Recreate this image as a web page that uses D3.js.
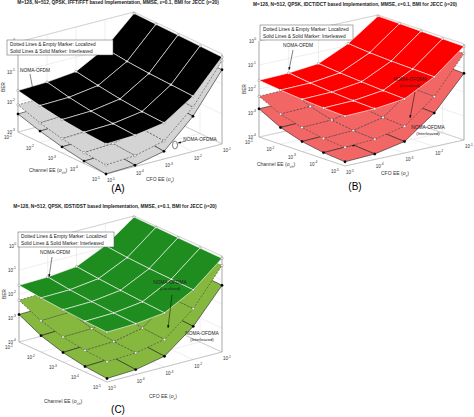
<!DOCTYPE html>
<html>
<head>
<meta charset="utf-8">
<script src="https://cdn.jsdelivr.net/npm/d3@7"></script>
<style>
  * { margin: 0; padding: 0; }
  body { background: #fff; }
  text { font-family: "Liberation Sans", Arial, sans-serif; }
</style>
</head>
<body>
<svg id="chart" width="474" height="417"></svg>
<script>
// axis values (rows = channel EE, cols = CFO EE)
var chTicks = [1e-5, 1e-4, 1e-3, 1e-2, 1e-1];
var cfoTicks = [1e-5, 1e-4, 1e-3, 1e-2, 1e-1];
var tickExp = ["-5", "-4", "-3", "-2", "-1"];

// BER surfaces, panel A (IFFT/FFT)
var ofdmA = [
  [1.0e-2, 1.1e-2, 1.6e-2, 7e-2, 8e-1],
  [1.1e-2, 1.2e-2, 1.7e-2, 7.5e-2, 8.2e-1],
  [1.3e-2, 1.4e-2, 2.0e-2, 8e-2, 8.5e-1],
  [1.7e-2, 1.8e-2, 2.5e-2, 9e-2, 8.8e-1],
  [2.4e-2, 2.6e-2, 3.3e-2, 1.1e-1, 9e-1]
];
var locA = [
  [2.0e-3, 2.3e-3, 4e-3, 3e-2, 6e-1],
  [2.3e-3, 2.6e-3, 4.5e-3, 3.3e-2, 6.2e-1],
  [3.0e-3, 3.3e-3, 5.5e-3, 3.8e-2, 6.5e-1],
  [4.5e-3, 5e-3, 7.5e-3, 4.5e-2, 6.8e-1],
  [8e-3, 8.5e-3, 1.2e-2, 6e-2, 7e-1]
];
var intA = [
  [1.0e-3, 1.1e-3, 1.8e-3, 1.5e-2, 3e-1],
  [1.2e-3, 1.3e-3, 2.1e-3, 1.7e-2, 3.2e-1],
  [1.6e-3, 1.7e-3, 2.7e-3, 2e-2, 3.4e-1],
  [2.4e-3, 2.6e-3, 3.8e-3, 2.5e-2, 3.6e-1],
  [4e-3, 4.3e-3, 6e-3, 3.3e-2, 3.8e-1]
];
// panel B (IDCT/DCT)
var ofdmB = [
  [1.2e-2, 1.3e-2, 1.8e-2, 8e-2, 8e-1],
  [1.3e-2, 1.4e-2, 2.0e-2, 8.5e-2, 8.2e-1],
  [1.5e-2, 1.6e-2, 2.3e-2, 9e-2, 8.5e-1],
  [1.8e-2, 1.9e-2, 2.7e-2, 1.0e-1, 8.8e-1],
  [2.3e-2, 2.5e-2, 3.3e-2, 1.2e-1, 9e-1]
];
var locB = [
  [6e-4, 7e-4, 1.3e-3, 1.2e-2, 4e-1],
  [7e-4, 8e-4, 1.5e-3, 1.3e-2, 4.2e-1],
  [1.0e-3, 1.1e-3, 2.0e-3, 1.6e-2, 4.5e-1],
  [1.8e-3, 2.0e-3, 3.2e-3, 2.2e-2, 4.8e-1],
  [5e-3, 5.3e-3, 7e-3, 3.5e-2, 5e-1]
];
var intB = [
  [1.5e-4, 1.7e-4, 3e-4, 2.5e-3, 6e-2],
  [1.8e-4, 2.0e-4, 3.5e-4, 2.8e-3, 6.5e-2],
  [2.6e-4, 2.9e-4, 5e-4, 3.5e-3, 7e-2],
  [5e-4, 5.5e-4, 8.5e-4, 5e-3, 8e-2],
  [1.5e-3, 1.6e-3, 2.2e-3, 9e-3, 1e-1]
];
// panel C (IDST/DST)
var ofdmC = [
  [1.2e-2, 1.3e-2, 1.8e-2, 8e-2, 8e-1],
  [1.3e-2, 1.4e-2, 2.0e-2, 8.5e-2, 8.2e-1],
  [1.5e-2, 1.6e-2, 2.3e-2, 9e-2, 8.5e-1],
  [1.8e-2, 1.9e-2, 2.7e-2, 1.0e-1, 8.8e-1],
  [2.3e-2, 2.5e-2, 3.3e-2, 1.2e-1, 9e-1]
];
var locC = [
  [7e-4, 8e-4, 1.4e-3, 1.3e-2, 4e-1],
  [8e-4, 9e-4, 1.6e-3, 1.4e-2, 4.2e-1],
  [1.1e-3, 1.2e-3, 2.1e-3, 1.7e-2, 4.5e-1],
  [2.0e-3, 2.2e-3, 3.4e-3, 2.3e-2, 4.8e-1],
  [5.5e-3, 6e-3, 7.5e-3, 3.7e-2, 5e-1]
];
var intC = [
  [1.4e-4, 1.6e-4, 2.8e-4, 2.4e-3, 6e-2],
  [1.7e-4, 1.9e-4, 3.3e-4, 2.7e-3, 6.5e-2],
  [2.5e-4, 2.8e-4, 4.8e-4, 3.4e-3, 7e-2],
  [4.8e-4, 5.3e-4, 8.2e-4, 4.8e-3, 8e-2],
  [1.4e-3, 1.5e-3, 2.1e-3, 8.5e-3, 1e-1]
];

var svg = d3.select("#chart");

function sup(sel, base, exp) {
  sel.append("tspan").text(base);
  sel.append("tspan").attr("dy", -2.5).attr("font-size", "0.75em").text(exp);
}

function drawPanel(c) {
  var g = svg.append("g");
  var fr = d3.scaleLog().domain([1e-5, 1e-1]).range([0, 1]);
  var zs = d3.scaleLog().domain([Math.pow(10, c.zmin), 1]).range([0, -c.zmin * c.h]).clamp(true);
  function p(ch, cfo, z) {
    var a = fr(ch), b = fr(cfo);
    return [c.O[0] + c.u[0] * a + c.v[0] * b, c.O[1] + c.u[1] * a + c.v[1] * b - zs(z)];
  }
  var zTop = 1, zBot = Math.pow(10, c.zmin);
  var line = d3.line();
  var zTicks = d3.range(c.zmin, 1).map(function (e) { return Math.pow(10, e); });

  // back walls and floor
  g.append("path").attr("fill", "#fff").attr("stroke", "#aaa").attr("stroke-width", 0.5)
    .attr("d", line([p(1e-1, 1e-5, zBot), p(1e-1, 1e-1, zBot), p(1e-1, 1e-1, zTop), p(1e-1, 1e-5, zTop)]) + "Z");
  g.append("path").attr("fill", "#fff").attr("stroke", "#aaa").attr("stroke-width", 0.5)
    .attr("d", line([p(1e-5, 1e-1, zBot), p(1e-1, 1e-1, zBot), p(1e-1, 1e-1, zTop), p(1e-5, 1e-1, zTop)]) + "Z");
  var grid = g.append("g").attr("stroke", "#d4d4d4").attr("stroke-width", 0.4).attr("fill", "none");
  zTicks.forEach(function (z) {
    grid.append("path").attr("d", line([p(1e-1, 1e-5, z), p(1e-1, 1e-1, z), p(1e-5, 1e-1, z)]));
  });
  chTicks.forEach(function (t) {
    grid.append("path").attr("d", line([p(t, 1e-5, zBot), p(t, 1e-1, zBot), p(t, 1e-1, zTop)]));
  });
  cfoTicks.forEach(function (t) {
    grid.append("path").attr("d", line([p(1e-5, t, zBot), p(1e-1, t, zBot), p(1e-1, t, zTop)]));
  });
  g.append("path").attr("fill", "none").attr("stroke", "#999").attr("stroke-width", 0.5)
    .attr("d", line([p(1e-1, 1e-5, zTop), p(1e-1, 1e-5, zBot), p(1e-5, 1e-5, zBot), p(1e-5, 1e-1, zBot), p(1e-5, 1e-1, zTop)]));

  // surfaces, bottom first, cells back to front
  var surfs = [
    { d: c.inter, fill: c.light, stroke: "#222", dash: null, mk: "#000" },
    { d: c.loc, fill: c.light, stroke: "#444", dash: "2,1.5", mk: "#fff" },
    { d: c.ofdm, fill: c.dark, stroke: "#fff", dash: null, mk: "#fff" }
  ];
  surfs.forEach(function (s) {
    var cells = [];
    for (var i = 0; i < 4; i++) for (var j = 0; j < 4; j++) cells.push([i, j]);
    cells.sort(function (a, b) { return (b[0] + b[1]) - (a[0] + a[1]); });
    g.append("g").selectAll("path").data(cells).enter().append("path")
      .attr("d", function (k) {
        var i = k[0], j = k[1];
        return line([p(chTicks[i], cfoTicks[j], s.d[i][j]), p(chTicks[i + 1], cfoTicks[j], s.d[i + 1][j]),
          p(chTicks[i + 1], cfoTicks[j + 1], s.d[i + 1][j + 1]), p(chTicks[i], cfoTicks[j + 1], s.d[i][j + 1])]) + "Z";
      })
      .attr("fill", s.fill).attr("stroke", s.stroke).attr("stroke-width", 0.6)
      .attr("stroke-dasharray", s.dash);
    var pts = [];
    s.d.forEach(function (row, i) { row.forEach(function (v, j) { pts.push(p(chTicks[i], cfoTicks[j], v)); }); });
    g.append("g").selectAll("circle").data(pts).enter().append("circle")
      .attr("cx", function (d) { return d[0]; }).attr("cy", function (d) { return d[1]; })
      .attr("r", 1.2).attr("fill", s.mk).attr("stroke", s.mk === "#fff" ? "#333" : "#000").attr("stroke-width", 0.3);
  });

  // tick labels
  var tl = g.append("g").attr("font-size", 4.5).attr("fill", "#333");
  chTicks.forEach(function (t, k) {
    var q = p(t, 1e-5, zBot);
    var tx = tl.append("text").attr("x", q[0] - 10).attr("y", q[1] + 7).attr("text-anchor", "middle");
    sup(tx, "10", tickExp[k]);
  });
  cfoTicks.forEach(function (t, k) {
    var q = p(1e-5, t, zBot);
    var tx = tl.append("text").attr("x", q[0] + 5).attr("y", q[1] + 8).attr("text-anchor", "middle");
    sup(tx, "10", tickExp[k]);
  });
  zTicks.forEach(function (z) {
    var q = p(1e-1, 1e-5, z);
    var tx = tl.append("text").attr("x", q[0] - 3).attr("y", q[1] + 1.5).attr("text-anchor", "end");
    sup(tx, "10", String(Math.round(Math.log10(z))));
  });
  var zm = p(1e-1, 1e-5, Math.pow(10, c.zmin / 2));
  g.append("text").attr("font-size", 4.5).attr("fill", "#333").attr("text-anchor", "middle")
    .attr("transform", "translate(" + (zm[0] - 13) + "," + zm[1] + ") rotate(-90)").text("BER");
  var cl = g.append("text").attr("font-size", 5).attr("fill", "#333").attr("text-anchor", "middle")
    .attr("x", c.chLab[0]).attr("y", c.chLab[1]);
  cl.append("tspan").text("Channel EE (σ");
  cl.append("tspan").attr("font-size", "0.7em").attr("dy", 1.5).text("ch");
  cl.append("tspan").attr("dy", -1.5).text(")");
  var fl = g.append("text").attr("font-size", 5).attr("fill", "#333").attr("text-anchor", "middle")
    .attr("x", c.cfoLab[0]).attr("y", c.cfoLab[1]);
  fl.append("tspan").text("CFO EE (σ");
  fl.append("tspan").attr("font-size", "0.7em").attr("dy", 1.5).text("ε");
  fl.append("tspan").attr("dy", -1.5).text(")");

  // title
  g.append("text").attr("x", c.title[0]).attr("y", c.title[1]).attr("text-anchor", "middle")
    .attr("font-size", 4.8).attr("font-weight", "bold").attr("fill", "#222").text(c.titleText);

  // legend
  var lg = g.append("g");
  lg.append("rect").attr("x", c.leg[0]).attr("y", c.leg[1]).attr("width", c.leg[2]).attr("height", 15)
    .attr("fill", "#fff").attr("stroke", "#555").attr("stroke-width", 0.5);
  lg.append("text").attr("x", c.leg[0] + 3).attr("y", c.leg[1] + 6).attr("font-size", 4.8).attr("fill", "#222")
    .text("Dotted Lines & Empty Marker: Localized");
  lg.append("text").attr("x", c.leg[0] + 3).attr("y", c.leg[1] + 12.5).attr("font-size", 4.8).attr("fill", "#222")
    .text("Solid Lines & Solid Marker: Interleaved");

  // annotations
  c.notes.forEach(function (n) {
    var t = g.append("text").attr("x", n.x).attr("y", n.y).attr("text-anchor", "middle")
      .attr("font-size", 4.8).attr("fill", n.col || "#222");
    n.lines.forEach(function (s, k) {
      t.append("tspan").attr("x", n.x).attr("dy", k ? 6 : 0).attr("font-size", k ? 4.2 : 4.8).text(s);
    });
    if (n.arrow) {
      g.append("line").attr("x1", n.arrow[0]).attr("y1", n.arrow[1]).attr("x2", n.arrow[2]).attr("y2", n.arrow[3])
        .attr("stroke", "#000").attr("stroke-width", 0.5);
      var ang = Math.atan2(n.arrow[3] - n.arrow[1], n.arrow[2] - n.arrow[0]);
      var hx = n.arrow[2], hy = n.arrow[3];
      g.append("path").attr("fill", "#000").attr("d", line([[hx, hy],
        [hx - 3 * Math.cos(ang - 0.4), hy - 3 * Math.sin(ang - 0.4)],
        [hx - 3 * Math.cos(ang + 0.4), hy - 3 * Math.sin(ang + 0.4)]]) + "Z");
    }
  });
  if (c.ellipse) {
    g.append("ellipse").attr("cx", c.ellipse[0]).attr("cy", c.ellipse[1]).attr("rx", 2.5).attr("ry", 4)
      .attr("fill", "none").attr("stroke", "#000").attr("stroke-width", 0.5);
  }
  g.append("text").attr("x", c.cap[0]).attr("y", c.cap[1]).attr("text-anchor", "middle")
    .attr("font-family", "Liberation Serif, serif").attr("font-size", 10).attr("fill", "#000").text(c.capText);
}

drawPanel({
  O: [106, 174], u: [-88, -42], v: [116, -30], h: 30, zmin: -3,
  ofdm: ofdmA, loc: locA, inter: intA, dark: "#000", light: "#d4d4d4",
  chLab: [48, 172], cfoLab: [160, 181],
  title: [118, 4], titleText: "M=128, N=512, QPSK, IFFT/FFT based Implementation, MMSE, ε=0.1, BMI for JECC (ι=20)",
  leg: [7, 40, 106],
  notes: [
    { x: 35, y: 72, lines: ["NOMA-OFDM"], arrow: [30, 74, 33, 90] },
    { x: 200, y: 141, lines: ["NOMA-OFDMA"], arrow: [186, 141, 178, 143] }
  ],
  ellipse: [175, 145],
  cap: [118, 192], capText: "(A)"
});
drawPanel({
  O: [345, 166], u: [-86, -29], v: [119, -26], h: 24, zmin: -4,
  ofdm: ofdmB, loc: locB, inter: intB, dark: "#ff0000", light: "#f26666",
  chLab: [276, 166], cfoLab: [395, 175],
  title: [355, 6], titleText: "M=128, N=512, QPSK, IDCT/DCT based Implementation, MMSE, ε=0.1, BMI for JECC (ι=20)",
  leg: [260, 25, 93],
  notes: [
    { x: 298, y: 47, lines: ["NOMA-OFDM"], arrow: [293, 50, 289, 70] },
    { x: 410, y: 81, lines: ["NOMA-OFDMA", "(Localized)"], arrow: [415, 92, 410, 118] },
    { x: 428, y: 129, lines: ["NOMA-OFDMA", "(Interleaved)"] }
  ],
  cap: [355, 190], capText: "(B)"
});
drawPanel({
  O: [107, 382], u: [-88, -40], v: [115, -30], h: 24, zmin: -4,
  ofdm: ofdmC, loc: locC, inter: intC, dark: "#1e8c1e", light: "#86b840",
  chLab: [63, 403], cfoLab: [163, 398],
  title: [115, 208], titleText: "M=128, N=512, QPSK, IDST/DST based Implementation, MMSE, ε=0.1, BMI for JECC (ι=20)",
  leg: [18, 232, 96],
  notes: [
    { x: 55, y: 254, lines: ["NOMA-OFDM"], arrow: [52, 257, 49, 277] },
    { x: 170, y: 284, lines: ["NOMA-OFDMA", "(Localized)"], arrow: [172, 295, 168, 328] },
    { x: 202, y: 335, lines: ["NOMA-OFDMA", "(Interleaved)"] }
  ],
  cap: [118, 413], capText: "(C)"
});
</script>
</body>
</html>
